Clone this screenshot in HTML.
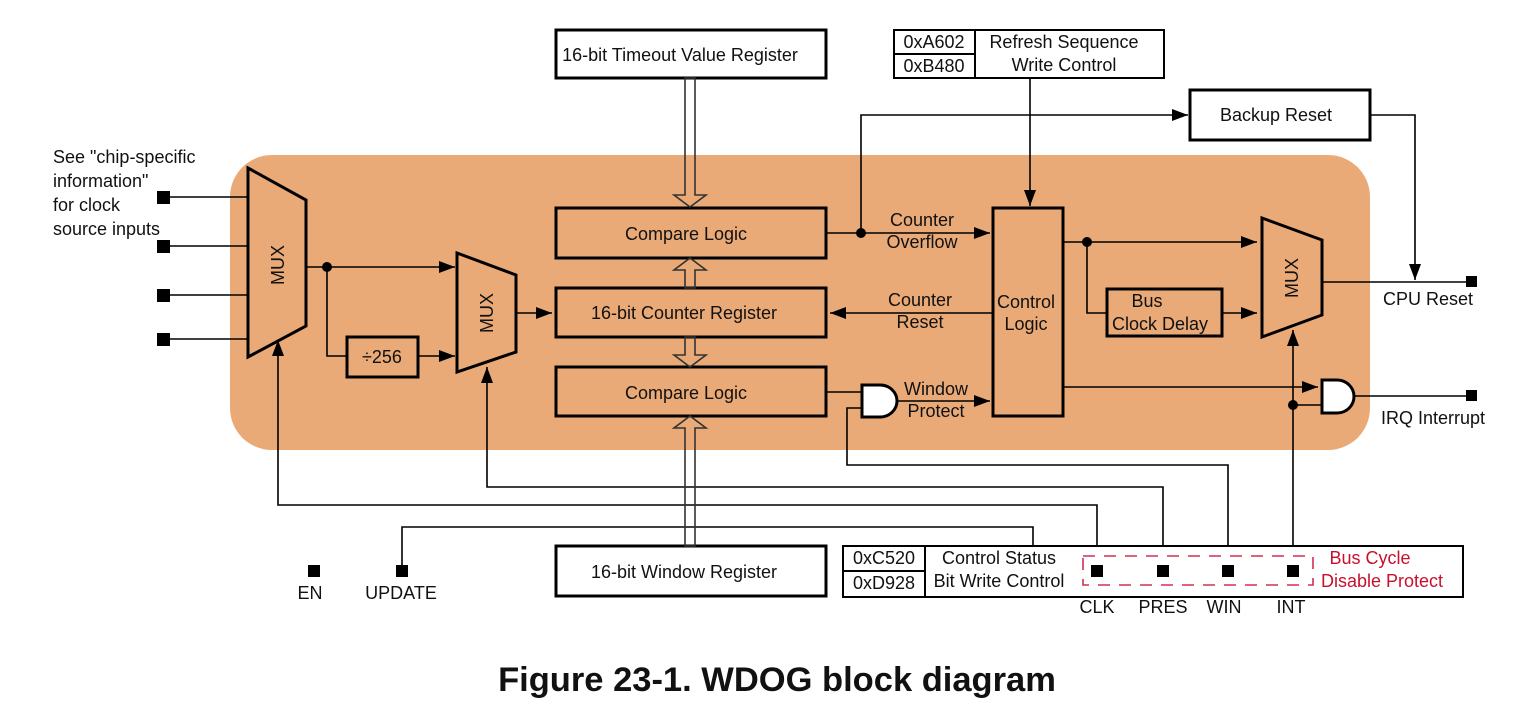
<!DOCTYPE html>
<html><head><meta charset="utf-8"><style>
html,body{margin:0;padding:0;background:#fff;}
svg{display:block;}
text{font-family:"Liberation Sans",sans-serif;font-size:18px;fill:#111;}
</style></head><body>
<svg width="1536" height="715" viewBox="0 0 1536 715" xmlns="http://www.w3.org/2000/svg">
<defs>
<marker id="b" markerWidth="16" markerHeight="12" refX="16" refY="6" orient="auto" markerUnits="userSpaceOnUse"><path d="M0,0 L16,6 L0,12 Z" fill="#000"/></marker>
</defs>
<rect x="230" y="155" width="1140" height="295" rx="42" fill="#EAAA77"/>
<g stroke="#000" stroke-width="1.6" fill="none">
<line x1="164" y1="197" x2="248" y2="197"/><line x1="164" y1="246" x2="248" y2="246"/>
<line x1="164" y1="295" x2="248" y2="295"/><line x1="164" y1="339" x2="248" y2="339"/>
<line x1="306" y1="267" x2="455" y2="267" marker-end="url(#b)"/>
<polyline points="327,267 327,356 347,356"/>
<line x1="418" y1="356" x2="455" y2="356" marker-end="url(#b)"/>
<line x1="516" y1="313" x2="552" y2="313" marker-end="url(#b)"/>
<polyline points="1097,571 1097,505 278,505 278,340" marker-end="url(#b)"/>
<polyline points="1163,571 1163,487 487,487 487,367" marker-end="url(#b)"/>
<polyline points="1228,571 1228,465 847,465 847,408 862,408"/>
<polyline points="402,571 402,527 1033,527 1033,546"/>
<polyline points="1293,571 1293,330" marker-end="url(#b)"/>
<line x1="1293" y1="405" x2="1322" y2="405"/>
<line x1="826" y1="233" x2="990" y2="233" marker-end="url(#b)"/>
<polyline points="861,233 861,115 1188,115" marker-end="url(#b)"/>
<polyline points="1370,115 1415,115 1415,280" marker-end="url(#b)"/>
<line x1="993" y1="313" x2="830" y2="313" marker-end="url(#b)"/>
<line x1="826" y1="392" x2="862" y2="392"/>
<line x1="897" y1="401" x2="990" y2="401" marker-end="url(#b)"/>
<line x1="1030" y1="78" x2="1030" y2="206" marker-end="url(#b)"/>
<line x1="1063" y1="242" x2="1257" y2="242" marker-end="url(#b)"/>
<polyline points="1087,242 1087,313 1107,313"/>
<line x1="1222" y1="313" x2="1257" y2="313" marker-end="url(#b)"/>
<line x1="1322" y1="282" x2="1470" y2="282"/>
<line x1="1063" y1="387" x2="1318" y2="387" marker-end="url(#b)"/>
<line x1="1353" y1="396" x2="1472" y2="396"/>
</g>
<g stroke="#000" stroke-width="3" fill="#EAAA77">
<polygon points="248,168 306,200 306,326 248,357"/>
<polygon points="457,253 516,275 516,352 457,372"/>
<polygon points="1262,218 1322,240 1322,315 1262,337"/>
<rect x="347" y="337" width="71" height="40"/>
<rect x="556" y="208" width="270" height="50"/>
<rect x="556" y="288" width="270" height="49"/>
<rect x="556" y="367" width="270" height="49"/>
<rect x="993" y="208" width="70" height="208"/>
<rect x="1107" y="289" width="115" height="47"/>
<rect x="556" y="30" width="270" height="48" fill="#fff"/>
<rect x="1190" y="90" width="180" height="50" fill="#fff"/>
<rect x="556" y="546" width="270" height="50" fill="#fff"/>
<path d="M862,385 H880 A17,16 0 0 1 880,417 H862 Z" fill="#fff"/>
<path d="M1322,380 H1337 A17,16.5 0 0 1 1337,413 H1322 Z" fill="#fff"/>
</g>
<g stroke="#000" stroke-width="2" fill="#fff">
<rect x="894" y="30" width="270" height="48"/>
<line x1="975" y1="30" x2="975" y2="78"/><line x1="894" y1="54" x2="975" y2="54"/>
<rect x="843" y="546" width="620" height="51"/>
<line x1="925" y1="546" x2="925" y2="597"/><line x1="843" y1="571" x2="925" y2="571"/>
</g>
<rect x="1083" y="556" width="230" height="29" fill="none" stroke="#D03050" stroke-width="1.6" stroke-dasharray="12,9"/>
<g stroke="#333" stroke-width="1.6" fill="none">
<polygon points="685,78 695,78 695,195 706,195 690,207 674,195 685,195"/>
<polygon points="685,288 695,288 695,270 706,270 690,258 674,270 685,270"/>
<polygon points="685,337 695,337 695,355 706,355 690,367 674,355 685,355"/>
<polygon points="685,546 695,546 695,428 706,428 690,416 674,428 685,428"/>
</g>
<g fill="#000">
<circle cx="327" cy="267" r="5"/><circle cx="861" cy="233" r="5"/><circle cx="1087" cy="242" r="5"/><circle cx="1293" cy="405" r="5"/>
<rect x="157" y="191" width="13" height="13"/><rect x="157" y="240" width="13" height="13"/>
<rect x="157" y="289" width="13" height="13"/><rect x="157" y="333" width="13" height="13"/>
<rect x="1466" y="276" width="11" height="11"/><rect x="1466" y="390" width="11" height="11"/>
<rect x="308" y="565" width="12" height="12"/><rect x="396" y="565" width="12" height="12"/>
<rect x="1091" y="565" width="12" height="12"/><rect x="1157" y="565" width="12" height="12"/>
<rect x="1222" y="565" width="12" height="12"/><rect x="1287" y="565" width="12" height="12"/>
</g>
<g>
<text x="53" y="163">See "chip-specific</text>
<text x="53" y="187">information"</text>
<text x="53" y="211">for clock</text>
<text x="53" y="235">source inputs</text>
<text transform="translate(284,265) rotate(-90)" text-anchor="middle">MUX</text>
<text transform="translate(493,313) rotate(-90)" text-anchor="middle">MUX</text>
<text transform="translate(1298,278) rotate(-90)" text-anchor="middle">MUX</text>
<text x="382" y="363" text-anchor="middle">÷256</text>
<text x="680" y="61" text-anchor="middle">16-bit Timeout Value Register</text>
<text x="686" y="240" text-anchor="middle">Compare Logic</text>
<text x="684" y="319" text-anchor="middle">16-bit Counter Register</text>
<text x="686" y="399" text-anchor="middle">Compare Logic</text>
<text x="684" y="578" text-anchor="middle">16-bit Window Register</text>
<text x="934" y="48" text-anchor="middle">0xA602</text>
<text x="934" y="72" text-anchor="middle">0xB480</text>
<text x="1064" y="48" text-anchor="middle">Refresh Sequence</text>
<text x="1064" y="71" text-anchor="middle">Write Control</text>
<text x="1276" y="121" text-anchor="middle">Backup Reset</text>
<text x="922" y="226" text-anchor="middle">Counter</text>
<text x="922" y="248" text-anchor="middle">Overflow</text>
<text x="920" y="306" text-anchor="middle">Counter</text>
<text x="920" y="328" text-anchor="middle">Reset</text>
<text x="936" y="395" text-anchor="middle">Window</text>
<text x="936" y="417" text-anchor="middle">Protect</text>
<text x="1026" y="308" text-anchor="middle">Control</text>
<text x="1026" y="330" text-anchor="middle">Logic</text>
<text x="1147" y="307" text-anchor="middle">Bus</text>
<text x="1160" y="330" text-anchor="middle">Clock Delay</text>
<text x="1428" y="305" text-anchor="middle">CPU Reset</text>
<text x="1433" y="424" text-anchor="middle">IRQ Interrupt</text>
<text x="884" y="564" text-anchor="middle">0xC520</text>
<text x="884" y="589" text-anchor="middle">0xD928</text>
<text x="999" y="564" text-anchor="middle">Control Status</text>
<text x="999" y="587" text-anchor="middle">Bit Write Control</text>
<text x="1370" y="564" text-anchor="middle" style="fill:#C8102E">Bus Cycle</text>
<text x="1382" y="587" text-anchor="middle" style="fill:#C8102E">Disable Protect</text>
<text x="310" y="599" text-anchor="middle">EN</text>
<text x="401" y="599" text-anchor="middle">UPDATE</text>
<text x="1097" y="613" text-anchor="middle">CLK</text>
<text x="1163" y="613" text-anchor="middle">PRES</text>
<text x="1224" y="613" text-anchor="middle">WIN</text>
<text x="1291" y="613" text-anchor="middle">INT</text>
<text x="777" y="691" text-anchor="middle" style="font-size:34.5px;font-weight:bold">Figure 23-1. WDOG block diagram</text>
</g>
</svg>
</body></html>
